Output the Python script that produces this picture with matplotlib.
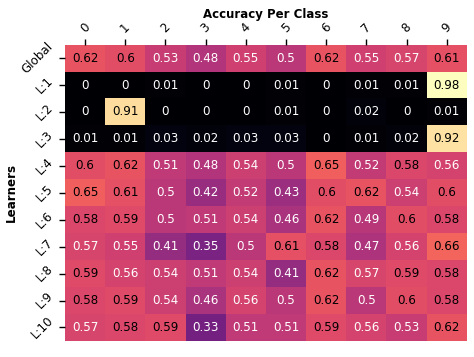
import numpy as np
import matplotlib
matplotlib.use("Agg")
import matplotlib.pyplot as plt
from matplotlib.colors import Normalize

classes = ["0", "1", "2", "3", "4", "5", "6", "7", "8", "9"]
learners = ["Global", "L:1", "L:2", "L:3", "L:4", "L:5", "L:6", "L:7", "L:8", "L:9", "L:10"]

row_global = [0.62, 0.6, 0.53, 0.48, 0.55, 0.5, 0.62, 0.55, 0.57, 0.61]
row_l1 = [0, 0, 0.01, 0, 0, 0.01, 0, 0.01, 0.01, 0.98]
row_l2 = [0, 0.91, 0, 0, 0, 0.01, 0, 0.02, 0, 0.01]
row_l3 = [0.01, 0.01, 0.03, 0.02, 0.03, 0.03, 0, 0.01, 0.02, 0.92]
row_l4 = [0.6, 0.62, 0.51, 0.48, 0.54, 0.5, 0.65, 0.52, 0.58, 0.56]
row_l5 = [0.65, 0.61, 0.5, 0.42, 0.52, 0.43, 0.6, 0.62, 0.54, 0.6]
row_l6 = [0.58, 0.59, 0.5, 0.51, 0.54, 0.46, 0.62, 0.49, 0.6, 0.58]
row_l7 = [0.57, 0.55, 0.41, 0.35, 0.5, 0.61, 0.58, 0.47, 0.56, 0.66]
row_l8 = [0.59, 0.56, 0.54, 0.51, 0.54, 0.41, 0.62, 0.57, 0.59, 0.58]
row_l9 = [0.58, 0.59, 0.54, 0.46, 0.56, 0.5, 0.62, 0.5, 0.6, 0.58]
row_l10 = [0.57, 0.58, 0.59, 0.33, 0.51, 0.51, 0.59, 0.56, 0.53, 0.62]

data = np.array([row_global, row_l1, row_l2, row_l3, row_l4, row_l5,
                 row_l6, row_l7, row_l8, row_l9, row_l10])

fig = plt.figure(figsize=(4.74, 3.57), dpi=100)
ax = fig.add_axes([0.137, 0.045, 0.848, 0.83])
cmap = plt.get_cmap("magma")
norm = Normalize(vmin=data.min(), vmax=data.max())
ax.pcolormesh(data, cmap=cmap, norm=norm)
ax.set_xlim(0, data.shape[1])
ax.set_ylim(data.shape[0], 0)

for i in range(data.shape[0]):
    for j in range(data.shape[1]):
        r, g, b, _ = cmap(norm(data[i, j]))
        lum = 0.2126 * r + 0.7152 * g + 0.0722 * b
        color = "black" if lum > 0.408 else "white"
        ax.text(j + 0.5, i + 0.5, f"{data[i, j]:g}", ha="center", va="center",
                fontsize=8.6, color=color)

for s in ax.spines.values():
    s.set_visible(False)

ax.set_xticks(np.arange(data.shape[1]) + 0.5)
ax.set_yticks(np.arange(data.shape[0]) + 0.5)
ax.set_xticklabels(classes, rotation=45, ha="center")
ax.set_yticklabels(learners, rotation=45, va="center")
ax.xaxis.tick_top()
ax.xaxis.set_label_position("top")
ax.set_xlabel("Accuracy Per Class", fontweight="bold", fontsize=8.5, labelpad=2)
ax.set_ylabel("Learners", fontweight="bold", fontsize=8.6, labelpad=1)
ax.xaxis.set_tick_params(which="major", direction="out", top=True, bottom=False,
                         length=4, width=1.0, color="black", pad=3, labelsize=8.6)
ax.yaxis.set_tick_params(which="major", direction="out", left=True, right=False,
                         length=4, width=1.0, color="black", pad=2.5, labelsize=8.6)
fig.savefig("out.png", dpi=100)
